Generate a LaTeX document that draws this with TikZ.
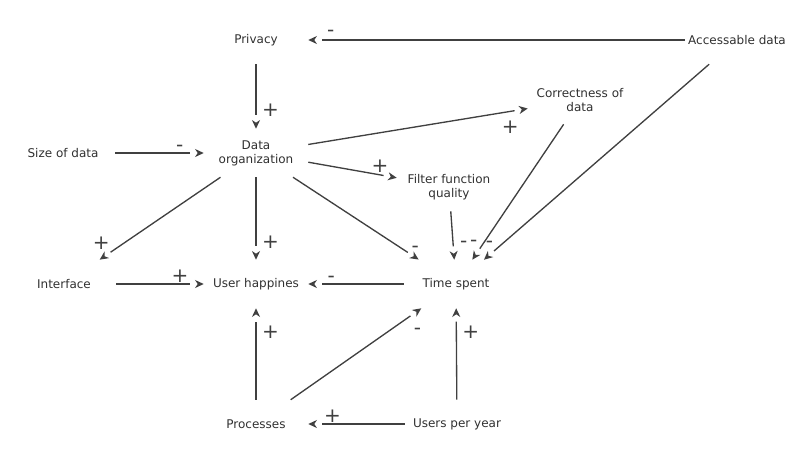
\documentclass[tikz,border=0pt]{standalone}
\usepackage{fontspec}
\setmainfont{DejaVu Sans}
\usetikzlibrary{arrows.meta,decorations.markings}
\definecolor{ink}{HTML}{404040}
\definecolor{txt}{HTML}{303030}
\tikzset{
  factor/.style={rectangle, minimum width=78pt, minimum height=36pt, inner sep=0pt, align=center, font=\fontsize{9}{10.5}\selectfont, text=txt},
  link/.style={draw=ink, line width=1pt, shorten >=10pt,
    postaction={decorate, decoration={markings, mark=at position 1 with {\arrow[ink]{Stealth[length=6.5pt,width=6pt,inset=2pt]}}}}},
  sign/.style={font=\fontsize{15}{15}\selectfont, inner sep=1pt, text height=10pt, text depth=0pt, text=ink}
}

\begin{document}
\begin{tikzpicture}[x=0.75pt, y=-0.75pt]
  \useasboundingbox (0,0) rectangle (800,455);
  \path (256,40) node[factor](priv) {Privacy} (737,40) node[factor](acc) {Accessable data}
    (580,100) node[factor](corr) {Correctness of\\data}
    (63,153) node[factor](size) {Size of data} (256,153) node[factor](org) {Data\\organization}
    (449,187) node[factor](filt) {Filter function\\quality}
    (64,284) node[factor](iface) {Interface} (256,284) node[factor](happy) {User happines}
    (456,284) node[factor](time) {Time spent}
    (256,424) node[factor](proc) {Processes} (457,424) node[factor](users) {Users per year};
  \draw[link] (acc) -- node[sign, pos=0.94, above=1pt] {-} (priv);
  \draw[link] (priv) -- node[sign, pos=0.71, right=3pt] {+} (org);
  \draw[link] (size) -- node[sign, pos=0.73, above] {-} (org);
  \draw[link] (org) -- node[sign, pos=0.92, below=5pt] {+} (corr);
  \draw[link] (org) -- node[sign, pos=0.81, above] {+} (filt);
  \draw[link] (org) -- node[sign, pos=0.9, above left] {+} (iface);
  \draw[link] (org) -- node[sign, pos=0.78, right=3pt] {+} (happy);
  \draw[link] (org) -- node[sign, pos=0.97, above=2pt] {-} (time);
  \draw[link] (filt) -- node[sign, pos=0.6, right=4pt] {-} (time);
  \draw[link] (corr) -- node[sign, pos=0.85, left=5pt] {-} (time);
  \draw[link] (acc) -- node[sign, pos=0.95, above left] {-} (time);
  \draw[link] (iface) -- node[sign, pos=0.73, above] {+} (happy);
  \draw[link] (time) -- node[sign, pos=0.76, above] {-} (happy);
  \draw[link] (proc) -- node[sign, pos=0.74, right=3pt] {+} (happy);
  \draw[link] (proc) -- node[sign, pos=0.97, below=6pt] {-} (time);
  \draw[link] (users) -- node[sign, pos=0.74, right=3pt] {+} (time);
  \draw[link] (users) -- node[sign, pos=0.75, above] {+} (proc);
\end{tikzpicture}
\end{document}
